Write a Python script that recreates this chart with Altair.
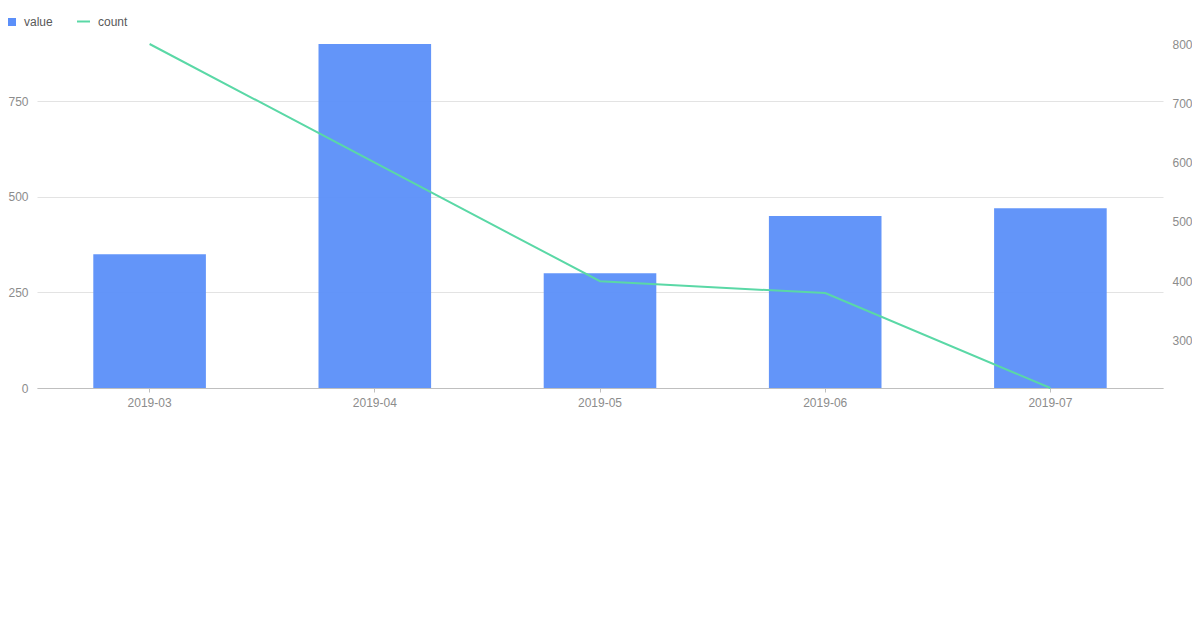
import altair as alt
import pandas as pd

months = ["2019-03", "2019-04", "2019-05", "2019-06", "2019-07"]
values = [350, 900, 300, 450, 470]
counts = [800, 600, 400, 380, 220]

df = pd.DataFrame({"month": months, "value": values, "count": counts})

FONT = "Liberation Sans"
LABEL = "#8C8C8C"

x = alt.X(
    "month:N",
    sort=months,
    scale=alt.Scale(paddingInner=0.5, paddingOuter=0.25),
    axis=alt.Axis(
        title=None, labelAngle=0, labelColor=LABEL, labelFontSize=12, labelFont=FONT,
        domainColor="#BFBFBF", tickColor="#BFBFBF", tickSize=4, labelPadding=5, grid=False,
    ),
)

bars = alt.Chart(df).transform_calculate(s1="'value'").mark_bar(fillOpacity=0.95).encode(
    x=x,
    y=alt.Y(
        "value:Q",
        scale=alt.Scale(domain=[0, 900], nice=False),
        axis=alt.Axis(
            title=None, values=[0, 250, 500, 750], domain=False, ticks=False, grid=True,
            gridColor="#E3E3E3", labelColor=LABEL, labelFontSize=12, labelFont=FONT, labelPadding=9,
        ),
    ),
    fill=alt.Fill(
        "s1:N",
        scale=alt.Scale(domain=["value"], range=["#5B8FF9"]),
        legend=alt.Legend(
            title=None, orient="none", legendX=-31, legendY=-28, symbolType="square",
            symbolSize=64, labelFontSize=12, labelFont=FONT, labelColor="#595959", labelOffset=6,
        ),
    ),
)

line = alt.Chart(df).transform_calculate(s2="'count'").mark_line(strokeWidth=2).encode(
    x=x,
    y=alt.Y(
        "count:Q",
        scale=alt.Scale(domain=[220, 800], nice=False, zero=False),
        axis=alt.Axis(
            title=None, orient="right", values=[300, 400, 500, 600, 700, 800], domain=False,
            ticks=False, grid=False, labelColor=LABEL, labelFontSize=12, labelFont=FONT, labelPadding=9,
        ),
    ),
    stroke=alt.Stroke(
        "s2:N",
        scale=alt.Scale(domain=["count"], range=["#5AD8A6"]),
        legend=alt.Legend(
            title=None, orient="none", legendX=39, legendY=-30, symbolType="stroke",
            symbolSize=169, symbolStrokeWidth=2, labelFontSize=12, labelFont=FONT,
            labelColor="#595959", labelOffset=7,
        ),
    ),
)

chart = (
    alt.layer(bars, line)
    .resolve_scale(y="independent", fill="independent", stroke="independent")
    .properties(
        width=1126, height=344,
        autosize=alt.AutoSizeParams(type="none"),
        padding={"left": 29, "top": 36, "right": 29, "bottom": 20},
        background="white",
    )
    .configure_view(stroke=None)
)

chart.save("out.html", embed_options={"renderer": "svg", "actions": False})
